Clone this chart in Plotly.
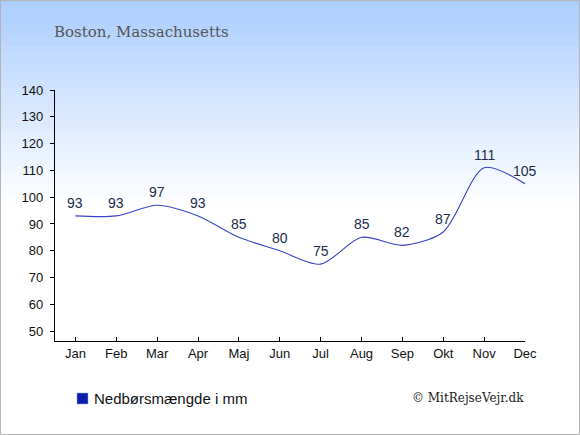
import plotly.graph_objects as go

# Monthly precipitation, Boston (mm)
months = ["Jan", "Feb", "Mar", "Apr", "Maj", "Jun",
          "Jul", "Aug", "Sep", "Okt", "Nov", "Dec"]
rain_mm = [93, 93, 97, 93, 85, 80, 75, 85, 82, 87, 111, 105]
y_ticks = [50, 60, 70, 80, 90, 100, 110, 120, 130, 140]

W, H = 580, 435
M_L, M_R, M_T, M_B = 55, 55, 90, 94
PLOT_W = W - M_L - M_R
PLOT_H = H - M_T - M_B

LINE_COLOR = "#3443c8"
LABEL_COLOR = "#1c2b4a"


def px_x(p):
    return (p - M_L) / PLOT_W


def px_y(p):
    return (H - M_B - p) / PLOT_H


# background gradient: light blue at the top fading to white
shapes = []
GRAD_END = 205
steps = 100
top = (170, 204, 255)
for i in range(steps):
    y0 = GRAD_END * i / steps
    y1 = GRAD_END * (i + 1) / steps
    t = (i + 0.5) / steps
    c = tuple(round(top[k] + (255 - top[k]) * t) for k in range(3))
    shapes.append(dict(
        type="rect", xref="paper", yref="paper", layer="below",
        x0=px_x(0), x1=px_x(W), y0=px_y(y1 + 0.5), y1=px_y(y0),
        fillcolor="rgb(%d,%d,%d)" % c, line=dict(width=0),
    ))

# outer frame
shapes.append(dict(
    type="rect", xref="paper", yref="paper", layer="above",
    x0=px_x(0.5), x1=px_x(W - 0.5), y0=px_y(H - 0.5), y1=px_y(0.5),
    line=dict(color="#b4b4b4", width=1),
))

# legend square
shapes.append(dict(
    type="rect", xref="paper", yref="paper",
    x0=px_x(77), x1=px_x(88), y0=px_y(404), y1=px_y(393),
    fillcolor="#0a1fae", line=dict(color="#9aa6d8", width=0.5),
))

fig = go.Figure()
fig.add_trace(go.Scatter(
    x=months,
    y=rain_mm,
    mode="lines",
    line=dict(color=LINE_COLOR, width=1.1, shape="spline", smoothing=0.8),
    showlegend=False,
    hoverinfo="x+y",
))

# value labels above each month
annotations = [
    dict(x=m, y=v, text=str(v), xref="x", yref="y",
         showarrow=False, yanchor="middle", yshift=13,
         font=dict(family="Liberation Sans, Arial", size=14, color=LABEL_COLOR))
    for m, v in zip(months, rain_mm)
]

annotations += [
    dict(text="Boston, Massachusetts", xref="paper", yref="paper",
         x=px_x(52), y=px_y(32), xanchor="left", yanchor="middle",
         showarrow=False,
         font=dict(family="DejaVu Serif", size=15, color="#555555")),
    dict(text="Nedbørsmængde i mm", xref="paper", yref="paper",
         x=px_x(92), y=px_y(398), xanchor="left", yanchor="middle",
         showarrow=False,
         font=dict(family="Liberation Sans, Arial", size=15, color="#111111")),
    dict(text="© MitRejseVejr.dk", xref="paper", yref="paper",
         x=px_x(526), y=px_y(398), xanchor="right", yanchor="middle",
         showarrow=False,
         font=dict(family="DejaVu Serif", size=12, color="#222222")),
]

fig.update_layout(
    width=W,
    height=H,
    margin=dict(l=M_L, r=M_R, t=M_T, b=M_B, pad=0),
    paper_bgcolor="white",
    plot_bgcolor="rgba(0,0,0,0)",
    shapes=shapes,
    annotations=annotations,
    font=dict(family="Liberation Sans, Arial", size=13, color="#111111"),
)

fig.update_xaxes(
    type="category",
    range=[-0.5, 11],
    showgrid=False,
    zeroline=False,
    showline=True,
    linecolor="black",
    linewidth=1.3,
    ticks="inside",
    ticklen=4,
    tickcolor="black",
    tickfont=dict(size=13, color="#111111"),
)
fig.update_yaxes(
    range=[46.3, 140],
    tickvals=y_ticks,
    showgrid=False,
    zeroline=False,
    showline=True,
    linecolor="black",
    linewidth=1.3,
    ticks="outside",
    ticklen=4,
    tickcolor="black",
    ticklabelstandoff=4,
    tickfont=dict(size=13, color="#111111"),
)

# drop the default page margin so the figure sits at the window corner
fig.write_html(
    "out.html",
    config={"displayModeBar": False},
    post_script="document.body.style.margin='0';",
)
